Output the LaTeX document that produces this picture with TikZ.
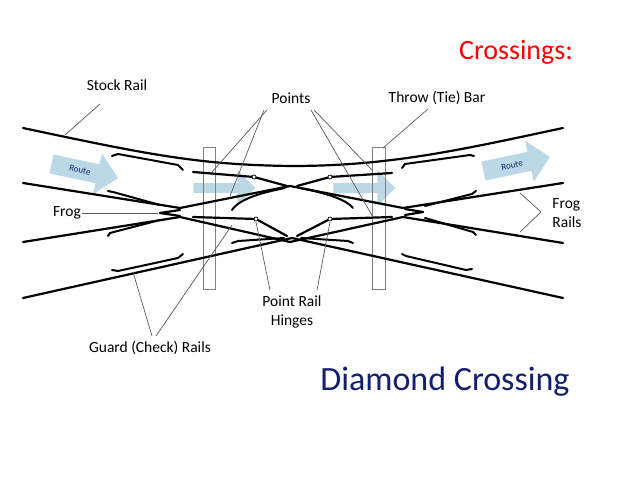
\documentclass[tikz,border=0pt]{standalone}
\usepackage{fontspec}
\setmainfont{Carlito}
\usetikzlibrary{shapes.arrows}
\definecolor{routeblue}{RGB}{188,216,230}
\definecolor{navy}{RGB}{20,30,110}
\begin{document}
\begin{tikzpicture}[x=1pt,y=-1pt,
 rail/.style={line width=2.2pt,line cap=round},
 guard/.style={line width=2pt,line cap=round},
 lead/.style={line width=0.7pt,gray!70!black},
 lbl/.style={font=\fontsize{15.5}{19}\selectfont,inner sep=1pt},
 route/.style={single arrow,fill=routeblue,minimum height=68pt,minimum width=42pt,single arrow head extend=6pt,inner sep=2pt,font=\fontsize{9}{10}\selectfont,text=navy}]
\useasboundingbox (0,0) rectangle (638,478);
% route arrows
\node[route,rotate=-12] (r1) at (80,170) {Route};
\node[route,minimum height=62pt,minimum width=36pt] (r2) at (222,188) {};
\node[route,minimum height=62pt,minimum width=36pt] (r3) at (362,188) {};
\node[route,rotate=12] (r4) at (512,165) {Route};
% tie bars
\draw[gray,line width=1pt] (203,148) rectangle (215,290);
\draw[gray,line width=1pt] (372,148) rectangle (385,290);
% stock rails
\draw[rail] (23,128) .. controls (150,155) and (200,165) .. (292,166) .. controls (390,166) and (460,150) .. (563,128);
\draw[rail] (23,298) -- (292,238) -- (563,298);
% inner rails
\draw[rail] (23,183) -- (180,208) -- (290,186) -- (403,208) -- (563,183);
\draw[rail] (23,242) -- (180,217) -- (290,242) -- (403,217) -- (563,243);
% frogs
\draw[rail] (160,213) -- (180,210); \draw[rail] (160,213) -- (180,216);
\draw[rail] (423,212) -- (405,209); \draw[rail] (423,212) -- (405,215);
% point rails
\draw[rail] (193,172) -- (254,177) -- (287,186);
\draw[rail] (297,186) -- (330,177) -- (392,173);
\draw[rail] (193,217) -- (256,219) -- (287,236);
\draw[rail] (297,236) -- (330,219) -- (392,217);
\draw[line width=0.7pt,fill=white] (254,177) circle (2);
\draw[line width=0.7pt,fill=white] (330,177) circle (2);
\draw[line width=0.7pt,fill=white] (256,219) circle (2);
\draw[line width=0.7pt,fill=white] (330,219) circle (2);
% guard rails
\draw[guard] (112,156) -- (118,154) -- (178,165) -- (183,170);
\draw[guard] (108,191) -- (113,192) -- (160,205);
\draw[guard] (108,236) -- (110,233) -- (160,220);
\draw[guard] (112,270) -- (118,271) -- (178,258) -- (183,254);
\draw[guard] (402,168) -- (405,164) -- (470,155) -- (474,156);
\draw[guard] (476,191) -- (472,194) -- (425,206);
\draw[guard] (476,235) -- (473,232) -- (425,218);
\draw[guard] (402,254) -- (406,256) -- (466,270) -- (472,269);
\draw[guard] (232,210) .. controls (240,198) and (265,192) .. (285,188);
\draw[guard] (353,208) .. controls (345,198) and (320,192) .. (300,188);
\draw[guard] (232,243) -- (238,241) -- (284,238);
\draw[guard] (353,243) -- (348,241) -- (301,238);
% labels
\node[text=red,font=\fontsize{28}{32}\selectfont] (t1) at (516,52) {Crossings:};
\node[text=navy,font=\fontsize{34}{40}\selectfont] (t2) at (445,382) {Diamond Crossing};
\node[lbl] (sr) at (117,85) {Stock Rail};
\node[lbl] (pt) at (291,98) {Points};
\node[lbl] (tb) at (437,98) {Throw (Tie) Bar};
\node[lbl] (fr) at (67,213) {Frog};
\node[lbl,align=left] (frr) at (567,213) {Frog\\Rails};
\node[lbl,align=center] (ph) at (292,312) {Point Rail\\Hinges};
\node[lbl] (gc) at (150,348) {Guard (Check) Rails};
\coordinate (c1) at (65,135); \coordinate (c2) at (100,104);
\draw[lead] (c2) -- (c1);
\coordinate (p1) at (212,172); \coordinate (p2) at (230,196);
\coordinate (p3) at (372,170); \coordinate (p4) at (373,217);
\draw[lead] (267,110) -- (p1); \draw[lead] (264,110) -- (p2);
\draw[lead] (314,110) -- (p3); \draw[lead] (311,110) -- (p4);
\coordinate (tbp) at (383,148);
\draw[lead] (428,109) -- (tbp);
\draw[lead] (fr.east) -- (158,213);
\coordinate (fr1) at (520,193); \coordinate (fr2) at (520,232);
\draw[lead] (541,212) -- (fr1); \draw[lead] (541,212) -- (fr2);
\coordinate (h1) at (256,222); \coordinate (h2) at (330,222);
\draw[lead] (270,290) -- (h1); \draw[lead] (317,290) -- (h2);
\coordinate (g1) at (133,272); \coordinate (g2) at (232,225);
\draw[lead] (152,336) -- (g1); \draw[lead] (156,336) -- (g2);
\end{tikzpicture}
\end{document}
